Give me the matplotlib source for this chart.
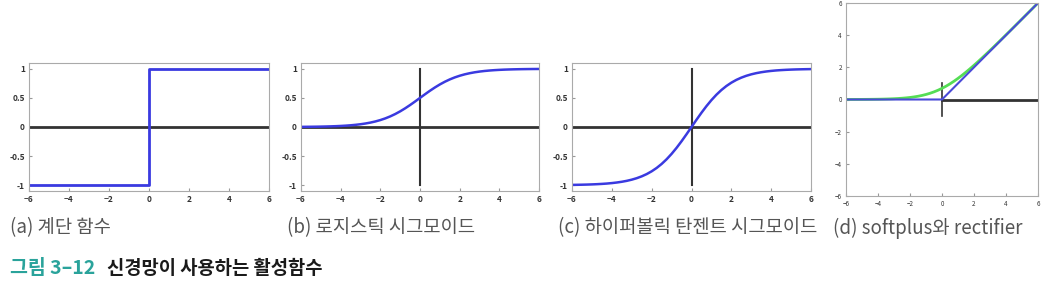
import matplotlib
matplotlib.use("Agg")
import matplotlib.pyplot as plt

plt.rcParams['font.family'] = ['Noto Sans CJK KR', 'DejaVu Sans']

# sample points (x from -6 to 6)
xs = [-6.0, -5.75, -5.5, -5.25, -5.0, -4.75, -4.5, -4.25, -4.0, -3.75, -3.5, -3.25,
      -3.0, -2.75, -2.5, -2.25, -2.0, -1.75, -1.5, -1.25, -1.0, -0.75, -0.5, -0.25,
      0.0, 0.25, 0.5, 0.75, 1.0, 1.25, 1.5, 1.75, 2.0, 2.25, 2.5, 2.75,
      3.0, 3.25, 3.5, 3.75, 4.0, 4.25, 4.5, 4.75, 5.0, 5.25, 5.5, 5.75, 6.0]
step_x = [-6, 0, 0, 6]
step_y = [-1, -1, 1, 1]
logistic_y = [0.0025, 0.0032, 0.0041, 0.0052, 0.0067, 0.0086, 0.0110, 0.0140, 0.0180, 0.0230, 0.0293, 0.0373,
              0.0474, 0.0601, 0.0759, 0.0953, 0.1192, 0.1480, 0.1824, 0.2227, 0.2689, 0.3208, 0.3775, 0.4378,
              0.5, 0.5622, 0.6225, 0.6792, 0.7311, 0.7773, 0.8176, 0.8520, 0.8808, 0.9047, 0.9241, 0.9399,
              0.9526, 0.9627, 0.9707, 0.9770, 0.9820, 0.9860, 0.9890, 0.9914, 0.9933, 0.9948, 0.9959, 0.9968, 0.9975]
tanh_y = [-0.9951, -0.9936, -0.9918, -0.9896, -0.9866, -0.9828, -0.9780, -0.9720, -0.9640, -0.9540, -0.9414, -0.9254,
          -0.9052, -0.8798, -0.8482, -0.8094, -0.7616, -0.7040, -0.6351, -0.5546, -0.4621, -0.3584, -0.2449, -0.1244,
          0.0, 0.1244, 0.2449, 0.3584, 0.4621, 0.5546, 0.6351, 0.7040, 0.7616, 0.8094, 0.8482, 0.8798,
          0.9052, 0.9254, 0.9414, 0.9540, 0.9640, 0.9720, 0.9780, 0.9828, 0.9866, 0.9896, 0.9918, 0.9936, 0.9951]
softplus_y = [0.0025, 0.0032, 0.0041, 0.0052, 0.0067, 0.0086, 0.0110, 0.0141, 0.0181, 0.0233, 0.0298, 0.0380,
              0.0486, 0.0620, 0.0789, 0.1001, 0.1269, 0.1602, 0.2014, 0.2519, 0.3133, 0.3868, 0.4741, 0.5759,
              0.6931, 0.8259, 0.9741, 1.1368, 1.3133, 1.5019, 1.7014, 1.9102, 2.1269, 2.3501, 2.5789, 2.8120,
              3.0486, 3.2880, 3.5298, 3.7733, 4.0181, 4.2641, 4.5110, 4.7586, 5.0067, 5.2552, 5.5041, 5.7532, 6.0025]
relu_x = [-6, 0, 6]
relu_y = [0, 0, 6]

captions = ["(a) 계단 함수", "(b) 로지스틱 시그모이드", "(c) 하이퍼볼릭 탄젠트 시그모이드", "(d) softplus와 rectifier"]
xticks = [-6, -4, -2, 0, 2, 4, 6]
yticks_small = [-1, -0.5, 0, 0.5, 1]
ylabels_small = ['-1', '-0.5', '0', '0.5', '1']
yticks_big = [-6, -4, -2, 0, 2, 4, 6]

W, H = 1047, 295
BLUE = '#3a3ae0'
AXC = '#333333'


def make_ax(fig, l, r, t, b):
    ax = fig.add_axes([l / W, (H - b) / H, (r - l) / W, (b - t) / H])
    ax.tick_params(direction='in', length=2, labelsize=6, colors='#999999',
                   labelcolor='#333333', pad=3)
    for s in ax.spines.values():
        s.set_color('#aaaaaa')
        s.set_linewidth(0.8)
    ax.set_xlim(-6, 6)
    ax.set_xticks(xticks)
    return ax


def bold_ticks(ax):
    for lab in ax.get_xticklabels() + ax.get_yticklabels():
        lab.set_fontweight('bold')


fig = plt.figure(figsize=(W / 100, H / 100), dpi=100)

# (a) step
ax = make_ax(fig, 29, 269, 63, 191)
ax.set_ylim(-1.1, 1.1)
ax.set_yticks(yticks_small, ylabels_small)
ax.axhline(0, color=AXC, lw=2)
ax.plot(step_x, step_y, color=BLUE, lw=2)
bold_ticks(ax)

# (b) logistic
ax = make_ax(fig, 301, 539, 63, 191)
ax.set_ylim(-1.1, 1.1)
ax.set_yticks(yticks_small, ylabels_small)
ax.axhline(0, color=AXC, lw=2)
ax.plot([0, 0], [-1, 1], color=AXC, lw=1.5)
ax.plot(xs, logistic_y, color=BLUE, lw=1.8)
bold_ticks(ax)

# (c) tanh
ax = make_ax(fig, 572, 811, 63, 191)
ax.set_ylim(-1.1, 1.1)
ax.set_yticks(yticks_small, ylabels_small)
ax.axhline(0, color=AXC, lw=2)
ax.plot([0, 0], [-1, 1], color=AXC, lw=1.5)
ax.plot(xs, tanh_y, color=BLUE, lw=1.8)
bold_ticks(ax)

# (d) softplus and rectifier
ax = make_ax(fig, 846, 1038, 3, 196)
ax.set_ylim(-6, 6)
ax.set_yticks(yticks_big)
ax.tick_params(labelsize=4.5)
ax.plot([0, 6], [0, 0], color=AXC, lw=2)
ax.plot([0, 0], [-1, 1], color=AXC, lw=1.2)
ax.plot(xs, softplus_y, color='#55dd55', lw=2)
ax.plot(relu_x, relu_y, color='#4a4ad8', lw=1.5)

# captions under each panel
cap_x = [10, 287, 558, 833]
for cx, txt in zip(cap_x, captions):
    fig.text(cx / W, 1 - 228 / H, txt, fontsize=13.5, color='#555555', va='center', ha='left')

fig.text(10 / W, 1 - 268 / H, "그림 3–12", fontsize=14, fontweight='bold', color='#2aa39b',
         va='center', ha='left')
fig.text(107 / W, 1 - 268 / H, "신경망이 사용하는 활성함수", fontsize=13.5, fontweight='bold',
         color='#1a1a1a', va='center', ha='left')

fig.savefig("out.png", dpi=100, facecolor='white')
